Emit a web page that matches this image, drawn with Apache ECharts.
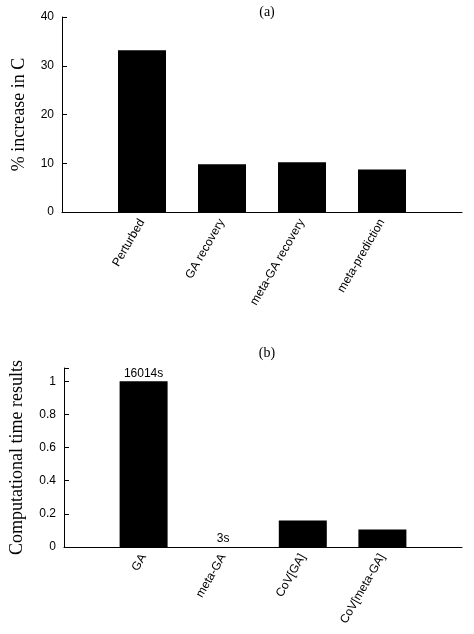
<!DOCTYPE html>
<html>
<head>
<meta charset="utf-8">
<script src="https://cdn.jsdelivr.net/npm/echarts@6/dist/echarts.min.js"></script>
<style>html,body{margin:0;padding:0;background:#fff}#main{width:474px;height:634px}</style>
</head>
<body>
<div id="main"></div>
<script>
    // (a) 成本增幅 (首尾空位用于留白)
    var catsA = ['', 'Perturbed', 'GA recovery', 'meta-GA recovery', 'meta-prediction', ''];
    var valsA = [null, 33.2, 9.8, 10.2, 8.7, null];
    // (b) 计算时间
    var catsB = ['', 'GA', 'meta-GA', 'CoV[GA]', 'CoV[meta-GA]', ''];
    var valsB = [null, 1.0, 0.0002, 0.16, 0.105, null];
    var labelsB = ['', '16014s', '3s', '', '', ''];

    var axisCommon = {
        axisLine: {show: true, lineStyle: {color: '#000'}},
        axisTick: {show: true, inside: true, lineStyle: {color: '#000'}},
        axisLabel: {color: '#000', fontFamily: 'Liberation Sans', fontSize: 12},
        splitLine: {show: false}
    };
    var nameStyle = {color: '#000', fontFamily: 'Liberation Serif', fontSize: 18};
    var xLabel = {color: '#000', fontFamily: 'Liberation Sans', fontSize: 12, rotate: 60, interval: 0};

    var myChart = echarts.init(document.getElementById('main'));
    myChart.setOption({
        animation: false,
        title: [
            {text: '(a)', left: 262, top: 0, textAlign: 'center', textStyle: {fontFamily: 'Liberation Serif', fontSize: 14, fontWeight: 'normal', color: '#000'}},
            {text: '(b)', left: 262, top: 341, textAlign: 'center', textStyle: {fontFamily: 'Liberation Serif', fontSize: 14, fontWeight: 'normal', color: '#000'}}
        ],
        grid: [
            {left: 62, right: 12, top: 17, height: 195},
            {left: 62, right: 12, top: 368, height: 179}
        ],
        xAxis: [
            Object.assign({}, axisCommon, {gridIndex: 0, type: 'category', data: catsA, boundaryGap: false,
                axisTick: {show: false}, axisLabel: xLabel}),
            Object.assign({}, axisCommon, {gridIndex: 1, type: 'category', data: catsB, boundaryGap: false,
                axisTick: {show: false}, axisLabel: xLabel})
        ],
        yAxis: [
            Object.assign({}, axisCommon, {gridIndex: 0, type: 'value', min: 0, max: 40, interval: 10,
                name: '% increase in C', nameLocation: 'middle', nameGap: 34, nameTextStyle: nameStyle}),
            Object.assign({}, axisCommon, {gridIndex: 1, type: 'value', min: 0, max: 1.08, interval: 0.2,
                name: 'Computational time results', nameLocation: 'middle', nameGap: 38, nameTextStyle: nameStyle,
                axisLabel: {color: '#000', fontFamily: 'Liberation Sans', fontSize: 12,
                    formatter: function (v) { return v > 1.01 ? '' : String(+v.toFixed(1)); }}})
        ],
        series: [
            {type: 'bar', xAxisIndex: 0, yAxisIndex: 0, data: valsA, barWidth: 48, itemStyle: {color: '#000'}},
            {type: 'bar', xAxisIndex: 1, yAxisIndex: 1, data: valsB, barWidth: 48, itemStyle: {color: '#000'},
                label: {show: true, position: 'top', distance: 2, color: '#000', fontFamily: 'Liberation Sans', fontSize: 12,
                    formatter: function (p) { return labelsB[p.dataIndex]; }}}
        ]
    });
</script>
</body>
</html>
